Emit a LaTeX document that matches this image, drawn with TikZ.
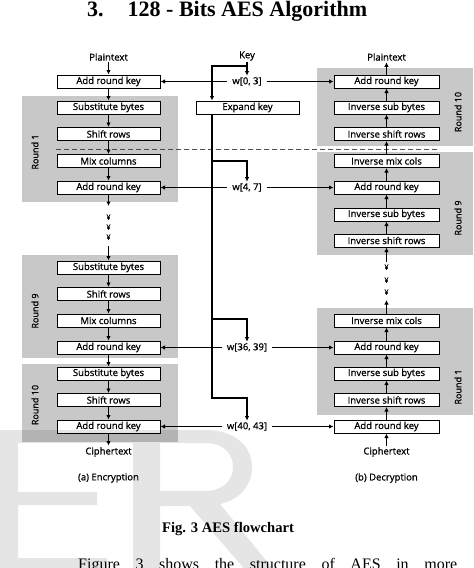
\documentclass[tikz,border=0pt]{standalone}
\usepackage{fontspec}
\setmainfont{Liberation Serif}
\setsansfont{Open Sans}
\newfontfamily\diagfont{Open Sans}[FakeBold=1]
\usetikzlibrary{arrows.meta,positioning}
\definecolor{roundgray}{HTML}{C8C8C8}

\begin{document}
\begin{tikzpicture}[x=1pt, y=-1pt,
  box/.style={draw, line width=1pt, fill=white, font=\diagfont\fontsize{9.5}{9.5}\selectfont,
              minimum width=103pt, minimum height=13pt, inner sep=0pt},
  txt/.style={font=\diagfont\fontsize{9.5}{9.5}\selectfont, inner sep=1.5pt},
  wlbl/.style={txt, inner xsep=5pt},
  rnd/.style={font=\diagfont\fontsize{9}{9}\selectfont, rotate=90},
  dots/.style={font=\diagfont\fontsize{7}{7}\selectfont, inner sep=0pt},
  flow/.style={line width=1.2pt, -{Latex[length=4.5pt,width=4.5pt]}},
  wline/.style={line width=0.9pt, -{Latex[length=4.5pt,width=4.5pt]}},
  keyln/.style={line width=1.3pt},
  wm/.style={fill=black, opacity=0.1, even odd rule}]
\clip (0,0) rectangle (474,568);
\useasboundingbox (0,0) rectangle (474,568);

\node[font=\bfseries\fontsize{22}{22}\selectfont, anchor=base west, inner sep=0pt] (title)
  at (87,16.7) {3.\hspace{24pt}128 - Bits AES Algorithm};

% round groups
\fill[roundgray] (22,96) rectangle (178,202);
\fill[roundgray] (22,255) rectangle (178,358);
\fill[roundgray] (22,364) rectangle (178,442);
\fill[roundgray] (317,68) rectangle (473,146);
\fill[roundgray] (317,152) rectangle (473,255);
\fill[roundgray] (317,308) rectangle (473,415);
\draw[gray!60!black, line width=0.8pt, dash pattern=on 5pt off 3pt] (56,149) -- (438,149);

\node[rnd] at (35,152) {Round 1};
\node[rnd] at (35,311) {Round 9};
\node[rnd] at (35,405) {Round 10};
\node[rnd] at (458,112) {Round 10};
\node[rnd] at (458,218) {Round 9};
\node[rnd] at (458,387) {Round 1};

% encryption
\node[txt] (eptxt) at (108.5,57) {Plaintext};
\node[box] (eark0) at (108.5,81.5) {Add round key};
\node[box] (esb1) at (108.5,107.5) {Substitute bytes};
\node[box] (esr1) at (108.5,134) {Shift rows};
\node[box] (emc1) at (108.5,161) {Mix columns};
\node[box] (eark1) at (108.5,187.5) {Add round key};
\coordinate (eup) at (108.5,206);
\node[dots] (ed1) at (108.5,217) {¥};
\node[dots] (ed2) at (108.5,227) {¥};
\node[dots] (ed3) at (108.5,237) {¥};
\coordinate (elo) at (108.5,246);
\node[box] (esb9) at (108.5,267.5) {Substitute bytes};
\node[box] (esr9) at (108.5,294) {Shift rows};
\node[box] (emc9) at (108.5,320.5) {Mix columns};
\node[box] (eark9) at (108.5,347.5) {Add round key};
\node[box] (esb10) at (108.5,373.5) {Substitute bytes};
\node[box] (esr10) at (108.5,400) {Shift rows};
\node[box] (eark10) at (108.5,426.5) {Add round key};
\node[txt] (ectxt) at (108.5,452) {Ciphertext};
\node[txt] (enc) at (108.5,478) {(a) Encryption};

\draw[flow] (eptxt) -- (eark0);
\draw[flow] (eark0) -- (esb1);
\draw[flow] (esb1) -- (esr1);
\draw[flow] (esr1) -- (emc1);
\draw[flow] (emc1) -- (eark1);
\draw[flow] (eark1) -- (eup);
\draw[flow] (elo) -- (esb9);
\draw[flow] (esb9) -- (esr9);
\draw[flow] (esr9) -- (emc9);
\draw[flow] (emc9) -- (eark9);
\draw[flow] (eark9) -- (esb10);
\draw[flow] (esb10) -- (esr10);
\draw[flow] (esr10) -- (eark10);
\draw[flow] (eark10) -- (ectxt);

% decryption
\node[txt] (dptxt) at (386.5,57) {Plaintext};
\node[box, minimum width=105pt] (dark10) at (386.5,81.5) {Add round key};
\node[box, minimum width=105pt] (disb10) at (386.5,107.5) {Inverse sub bytes};
\node[box, minimum width=105pt] (disr10) at (386.5,134) {Inverse shift rows};
\node[box, minimum width=105pt] (dimc9) at (386.5,161) {Inverse mix cols};
\node[box, minimum width=105pt] (dark9) at (386.5,187.5) {Add round key};
\node[box, minimum width=105pt] (disb9) at (386.5,214.5) {Inverse sub bytes};
\node[box, minimum width=105pt] (disr9) at (386.5,240.5) {Inverse shift rows};
\coordinate (dup) at (386.5,262);
\node[dots] (dd1) at (386.5,267) {¥};
\node[dots] (dd2) at (386.5,280) {¥};
\node[dots] (dd3) at (386.5,292) {¥};
\coordinate (dlo) at (386.5,300);
\node[box, minimum width=105pt] (dimc1) at (386.5,320.5) {Inverse mix cols};
\node[box, minimum width=105pt] (dark1) at (386.5,347.5) {Add round key};
\node[box, minimum width=105pt] (disb1) at (386.5,373.5) {Inverse sub bytes};
\node[box, minimum width=105pt] (disr1) at (386.5,400) {Inverse shift rows};
\node[box, minimum width=105pt] (dark0) at (386.5,426.5) {Add round key};
\node[txt] (dctxt) at (386.5,452) {Ciphertext};
\node[txt] (dec) at (386.5,478) {(b) Decryption};

\draw[flow] (dctxt) -- (dark0);
\draw[flow] (dark0) -- (disr1);
\draw[flow] (disr1) -- (disb1);
\draw[flow] (disb1) -- (dark1);
\draw[flow] (dark1) -- (dimc1);
\draw[flow] (dimc1) -- (dlo);
\draw[flow] (dup) -- (disr9);
\draw[flow] (disr9) -- (disb9);
\draw[flow] (disb9) -- (dark9);
\draw[flow] (dark9) -- (dimc9);
\draw[flow] (dimc9) -- (disr10);
\draw[flow] (disr10) -- (disb10);
\draw[flow] (disb10) -- (dark10);
\draw[flow] (dark10) -- (dptxt);

% key schedule
\node[txt] (key) at (247,56) {Key};
\node[box] (expk) at (247.5,107.5) {Expand key};
\node[wlbl] (w0) at (247,81.5) {w[0, 3]};
\node[wlbl] (w1) at (247,187.5) {w[4, 7]};
\node[wlbl] (w9) at (247,347.5) {w[36, 39]};
\node[wlbl] (w10) at (247,426.5) {w[40, 43]};
\coordinate (kj) at (247,66);
\coordinate (kc) at (212,66);
\coordinate (b1) at (212,161);
\coordinate (b9) at (212,319);
\coordinate (kb) at (212,398);

\draw[keyln, -{Latex[length=4.5pt,width=4.5pt]}] (key) -- (w0);
\draw[keyln, -{Latex[length=4.5pt,width=4.5pt]}] (kj) -- (kc) -- (expk.north -| kc);
\draw[keyln, -{Latex[length=4.5pt,width=4.5pt]}] (expk.south -| kb) -- (kb) -| (w10);
\draw[keyln, -{Latex[length=4.5pt,width=4.5pt]}] (b1) -| (w1);
\draw[keyln, -{Latex[length=4.5pt,width=4.5pt]}] (b9) -| (w9);

\draw[wline] (w0) -- (eark0);
\draw[wline] (w0) -- (dark10);
\draw[wline] (w1) -- (eark1);
\draw[wline] (w1) -- (dark9);
\draw[wline] (w9) -- (eark9);
\draw[wline] (w9) -- (dark1);
\draw[wline] (w10) -- (eark10);
\draw[wline] (w10) -- (dark0);

\node[font=\bfseries\fontsize{14.6}{14.6}\selectfont, anchor=base, inner sep=0pt] (cap)
  at (228,532) {Fig. 3 AES flowchart};
\node[font=\fontsize{16}{16}\selectfont, anchor=base west, inner sep=0pt] (body)
  at (78,569) {\makebox[379pt][s]{Figure 3 shows the structure of AES in more}};

% watermark
\fill[wm] (-5,430) -- (133,430) -- (133,443) -- (18,443) -- (18,492) -- (97,492) -- (97,505)
  -- (18,505) -- (18,558) -- (107,558) -- (107,580) -- (-5,580) -- cycle;
\fill[wm] (133,430) -- (205,430) .. controls (236,430) and (252,447) .. (252,467)
  .. controls (252,487) and (238,500) .. (220,504) -- (282,580) -- (254,580) -- (190,506)
  -- (160,506) -- (160,580) -- (133,580) -- cycle
  (160,443) -- (205,443) .. controls (225,443) and (233,455) .. (233,467)
  .. controls (233,481) and (222,491) .. (205,491) -- (160,491) -- cycle;
\end{tikzpicture}
\end{document}
